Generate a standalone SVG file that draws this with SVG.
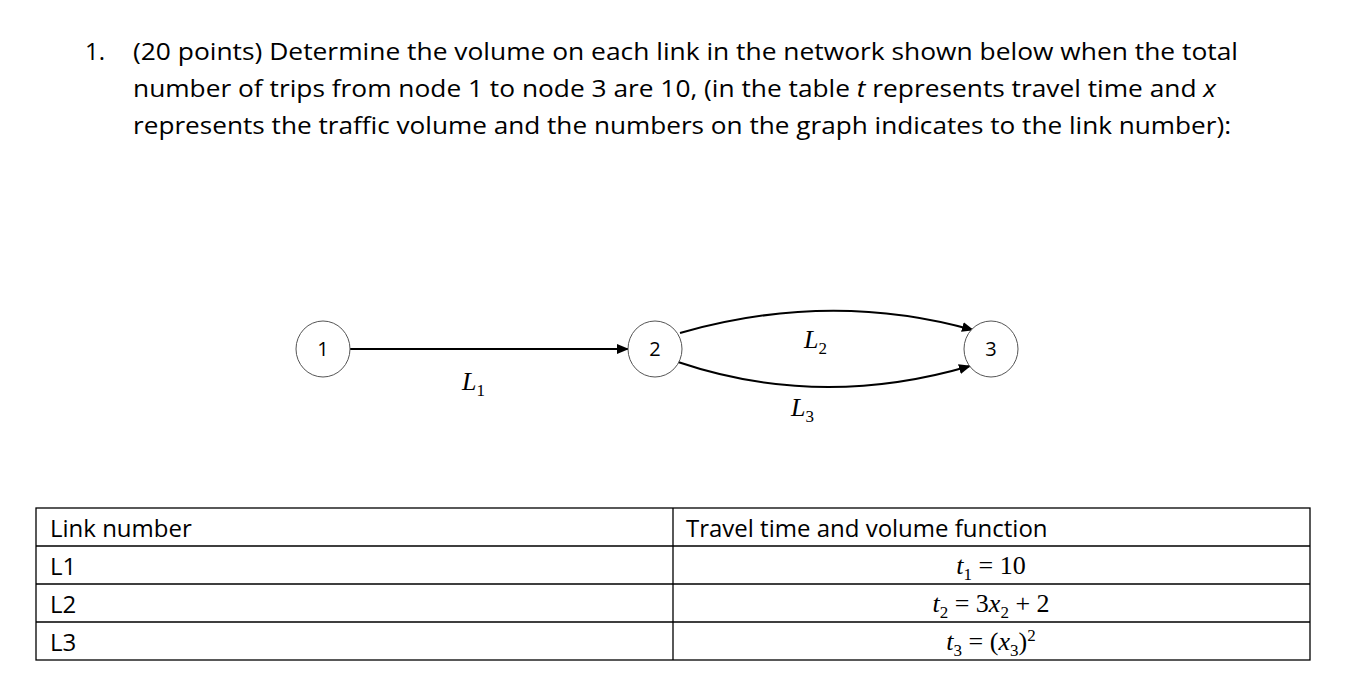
<svg xmlns="http://www.w3.org/2000/svg" width="1364" height="693" viewBox="0 0 1364 693">
<style>
.t{font-family:"Open Sans","Liberation Sans",sans-serif;font-size:24px;fill:#000}
.m{font-family:"Liberation Serif","DejaVu Serif",serif;font-size:26px;fill:#000}
.i{font-style:italic}
.s{font-size:17px}
.n{font-family:"Open Sans","Liberation Sans",sans-serif;font-size:20px}
.c{fill:#fff;stroke:#555;stroke-width:1}
.e{fill:none;stroke:#000;stroke-width:2}
.g{fill:none;stroke:#000;stroke-width:1.3}
</style>
<defs><marker id="a" markerWidth="12" markerHeight="10" refX="11" refY="5" orient="auto" markerUnits="userSpaceOnUse"><path d="M0,0 L12,5 L0,10 z" fill="#000"/></marker></defs>
<rect width="1364" height="693" fill="#fff"/>
<text class="t" x="85" y="60">1.</text>
<text class="t" x="133" y="60" textLength="1105" lengthAdjust="spacingAndGlyphs">(20 points) Determine the volume on each link in the network shown below when the total</text>
<text class="t" x="133" y="97" textLength="1083" lengthAdjust="spacingAndGlyphs">number of trips from node 1 to node 3 are 10, (in the table <tspan font-style="italic">t</tspan> represents travel time and <tspan font-style="italic">x</tspan></text>
<text class="t" x="133" y="134" textLength="1098" lengthAdjust="spacingAndGlyphs">represents the traffic volume and the numbers on the graph indicates to the link number):</text>
<g id="edges">
<path class="e" d="M350,349 L628,349" marker-end="url(#a)"/>
<path class="e" d="M680,333 Q830,290 973,330" marker-end="url(#a)"/>
<path class="e" d="M678,362 Q820,410 970,366" marker-end="url(#a)"/>
<text class="m i" x="462" y="390">L<tspan class="s" font-style="normal" dy="6">1</tspan></text>
<text class="m i" x="804" y="348">L<tspan class="s" font-style="normal" dy="6">2</tspan></text>
<text class="m i" x="791" y="416">L<tspan class="s" font-style="normal" dy="6">3</tspan></text>
</g>
<g id="node1"><ellipse class="c" cx="323" cy="349" rx="27" ry="28"/><text class="n" x="323" y="356" text-anchor="middle">1</text></g>
<g id="node2"><ellipse class="c" cx="655" cy="349" rx="27" ry="28"/><text class="n" x="655" y="356" text-anchor="middle">2</text></g>
<g id="node3"><ellipse class="c" cx="991" cy="349" rx="27" ry="28"/><text class="n" x="991" y="356" text-anchor="middle">3</text></g>
<g id="table">
<rect class="g" x="36" y="508" width="1274" height="152"/>
<path class="g" d="M673,508 V660 M36,546 H1310 M36,584 H1310 M36,622 H1310"/>
<text class="t" x="50" y="537">Link number</text>
<text class="t" x="686" y="537">Travel time and volume function</text>
<text class="t" x="50" y="575">L1</text>
<text class="t" x="50" y="613">L2</text>
<text class="t" x="50" y="651">L3</text>
<text class="m" x="991" y="574" text-anchor="middle"><tspan class="i">t</tspan><tspan class="s" dy="6">1</tspan><tspan dy="-6"> = 10</tspan></text>
<text class="m" x="991" y="612" text-anchor="middle"><tspan class="i">t</tspan><tspan class="s" dy="6">2</tspan><tspan dy="-6"> = 3</tspan><tspan class="i">x</tspan><tspan class="s" dy="6">2</tspan><tspan dy="-6"> + 2</tspan></text>
<text class="m" x="991" y="650" text-anchor="middle"><tspan class="i">t</tspan><tspan class="s" dy="6">3</tspan><tspan dy="-6"> = (</tspan><tspan class="i">x</tspan><tspan class="s" dy="6">3</tspan><tspan dy="-6">)</tspan><tspan class="s" dy="-9">2</tspan></text>
</g>
</svg>
